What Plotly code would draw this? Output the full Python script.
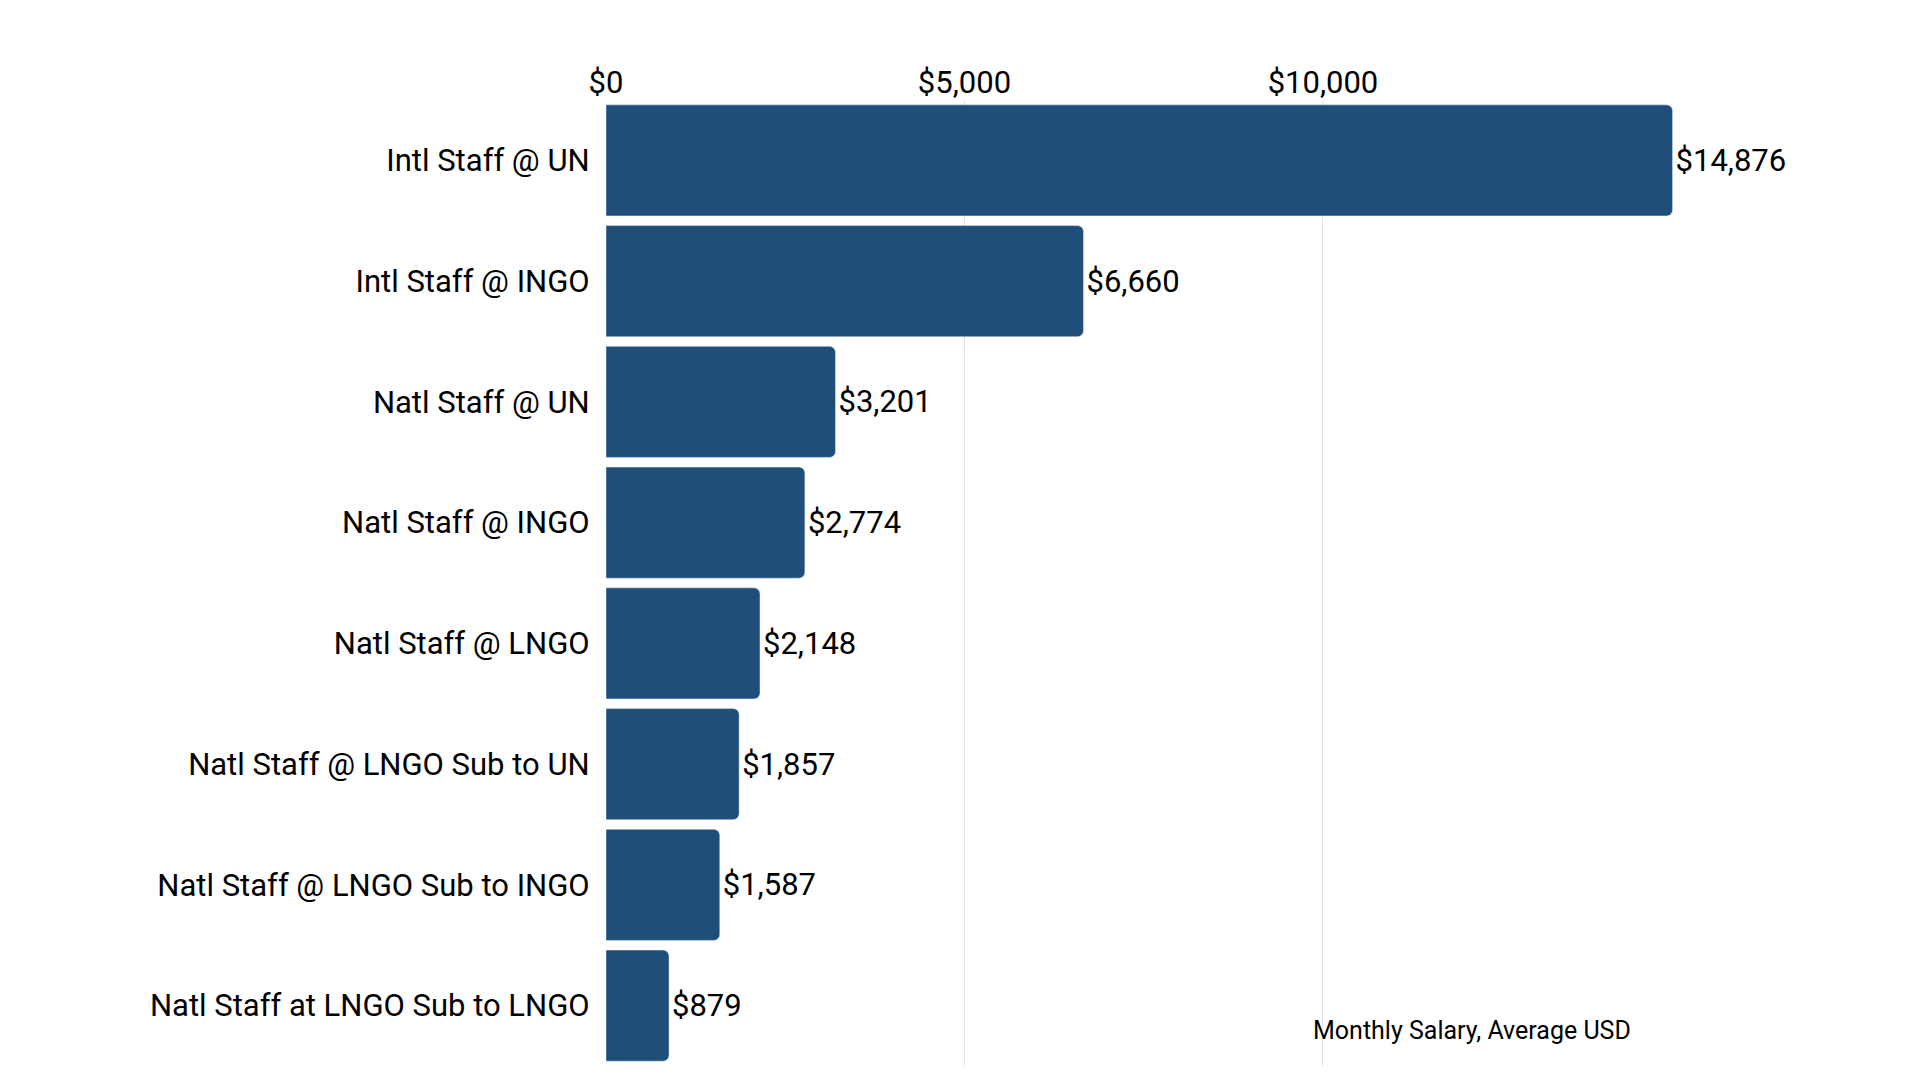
import plotly.graph_objects as go

categories = ["Intl Staff @ UN", "Intl Staff @ INGO", "Natl Staff @ UN", "Natl Staff @ INGO",
              "Natl Staff @ LNGO", "Natl Staff @ LNGO Sub to UN", "Natl Staff @ LNGO Sub to INGO",
              "Natl Staff at LNGO Sub to LNGO"]
salary = [14876, 6660, 3201, 2774, 2148, 1857, 1587, 879]
tick_vals = [0, 5000, 10000]
tick_text = ["$0", "$5,000", "$10,000"]

fig = go.Figure(go.Bar(
    y=categories, x=salary, orientation="h",
    marker=dict(color="#1f4e79", cornerradius=6),
    text=[f"${v:,}" for v in salary], textposition="outside",
    textfont=dict(size=31, color="black"), cliponaxis=False,
))

fig.update_layout(
    width=1912, height=1076,
    margin=dict(l=598, r=131, t=92, b=18),
    plot_bgcolor="white", paper_bgcolor="white",
    font=dict(family="Roboto", size=31, color="black"),
    bargap=0.08, showlegend=False,
    xaxis=dict(side="top", range=[0, 16500], tickvals=tick_vals, ticktext=tick_text,
               showgrid=True, gridcolor="#e3e3e3", zeroline=False, ticklen=0),
    yaxis=dict(autorange="reversed", ticksuffix="  ", showgrid=False),
    annotations=[dict(text="Monthly Salary, Average USD", x=1303, xref="paper", y=1025,
                      showarrow=False, font=dict(size=25))],
)
fig.layout.annotations[0].update(xref="x", x=9830, xanchor="left", yref="paper", y=0.02, yanchor="bottom")

fig.write_html("out.html")
